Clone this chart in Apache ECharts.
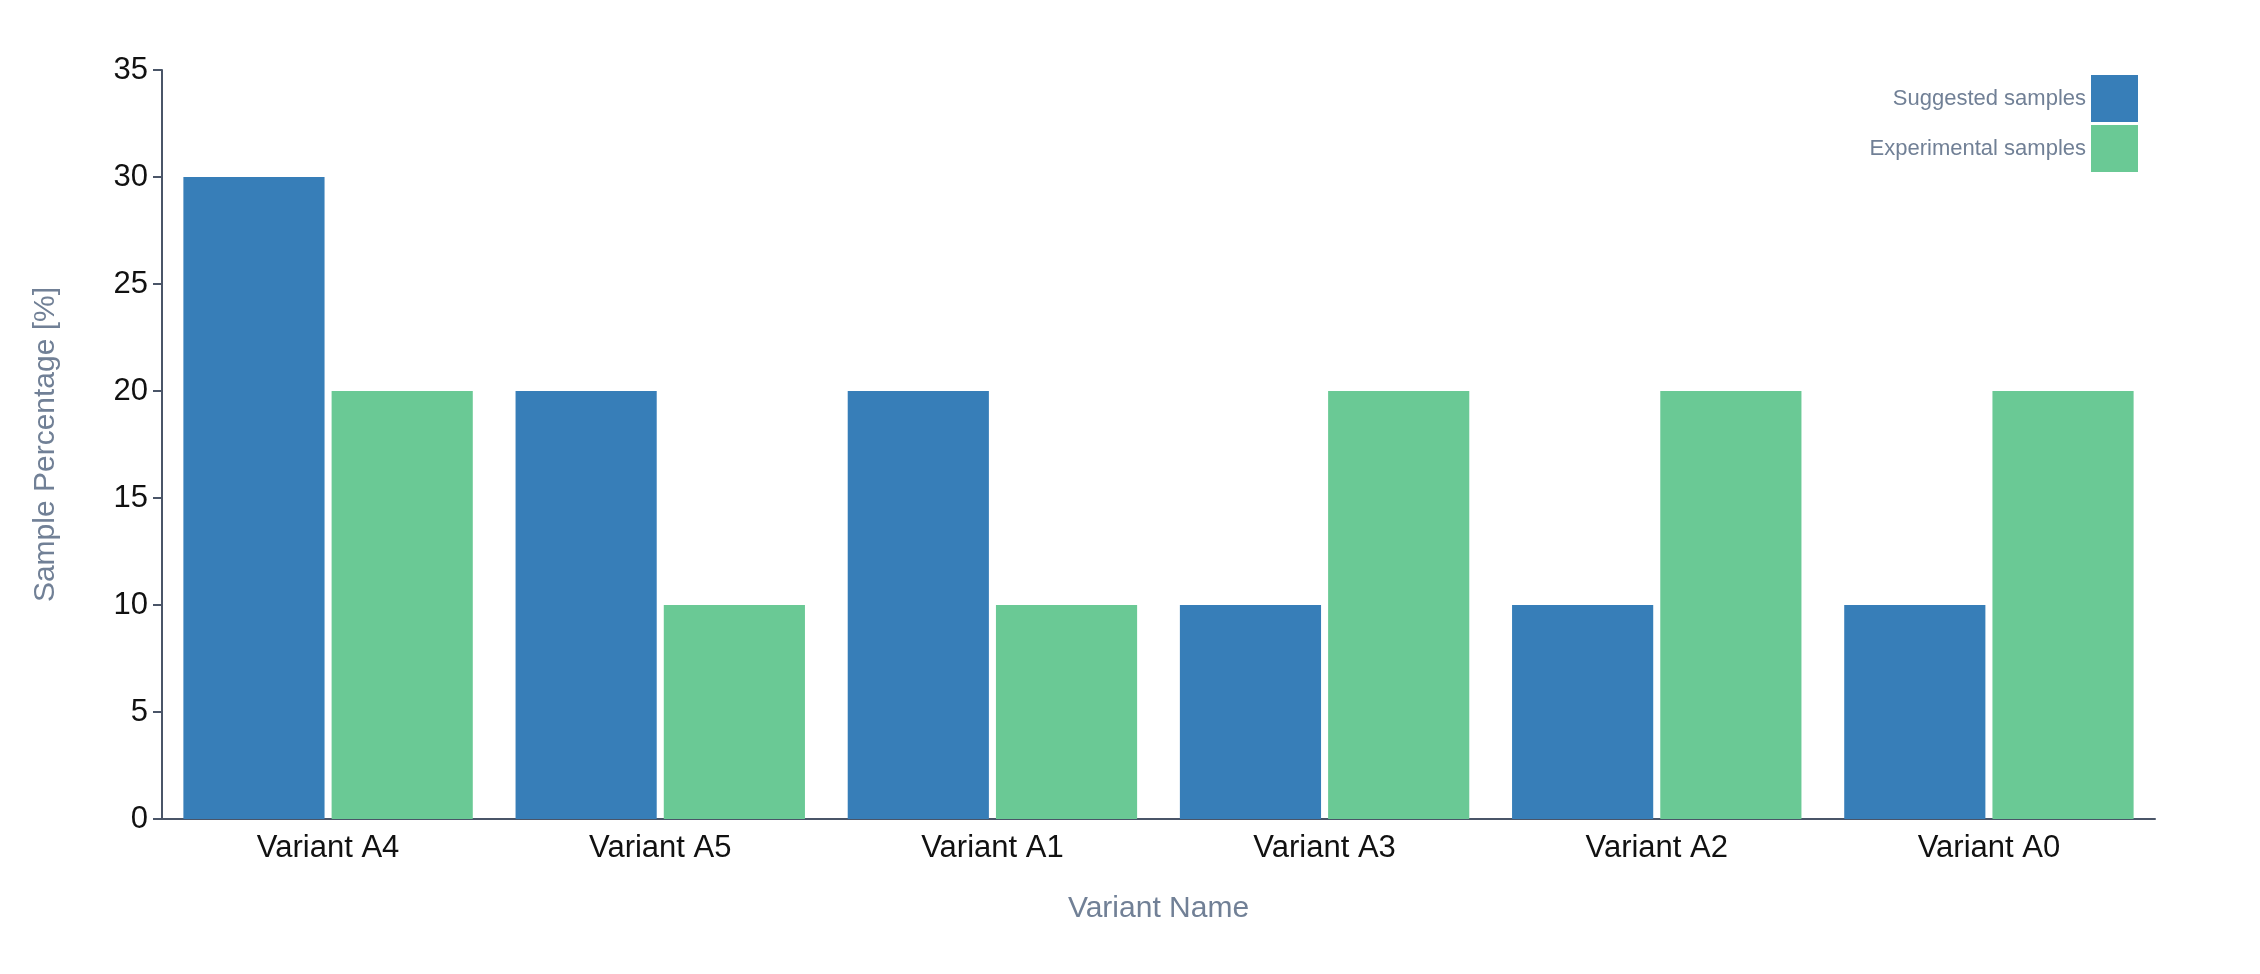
<!DOCTYPE html>
<html><head><meta charset="utf-8">
<script src="https://cdn.jsdelivr.net/npm/echarts@6/dist/echarts.min.js"></script>
<style>html,body{margin:0;padding:0;background:#fff}#c{width:2260px;height:974px}</style>
</head><body><div id="c"></div>
<script>
const categories = ["Variant A4","Variant A5","Variant A1","Variant A3","Variant A2","Variant A0"];
const suggested = [30,20,20,10,10,10];
const experimental = [20,10,10,20,20,20];
const yTicks = [0,5,10,15,20,25,30,35];
const font = "'Liberation Sans', Arial, Helvetica, sans-serif";
const axisColor = '#4a5568';
const chart = echarts.init(document.getElementById('c'));
chart.setOption({
  animation:false,
  textStyle:{fontFamily:font},
  grid:{left:162,right:105,top:70,bottom:155,containLabel:false},
  legend:{
    orient:'vertical', right:117, top:70, align:'right',
    itemWidth:47, itemHeight:47, itemGap:3, icon:'rect',
    textStyle:{color:'#718096',fontSize:22,fontFamily:font},
    data:['Suggested samples','Experimental samples']
  },
  xAxis:{
    type:'category', data:categories,
    name:'Variant Name', nameLocation:'middle', nameGap:75,
    nameTextStyle:{color:'#718096',fontSize:30,fontFamily:font},
    axisLine:{lineStyle:{color:axisColor,width:2}},
    axisTick:{alignWithLabel:true,length:9,lineStyle:{color:axisColor,width:2}},
    axisLabel:{color:'#111',fontSize:31,margin:14,fontFamily:font}
  },
  yAxis:{
    type:'value', min:0, max:35, interval:5,
    name:'Sample Percentage [%]', nameLocation:'middle', nameGap:101,
    nameTextStyle:{color:'#718096',fontSize:30,fontFamily:font},
    axisLine:{show:true,lineStyle:{color:axisColor,width:2}},
    axisTick:{show:true,length:9,lineStyle:{color:axisColor,width:2}},
    splitLine:{show:false},
    axisLabel:{color:'#111',fontSize:31,margin:14,fontFamily:font,
      formatter:v=>yTicks.includes(v)?String(v):''}
  },
  series:[
    {name:'Suggested samples',type:'bar',data:suggested,barWidth:'42.5%',barGap:'5%',
     itemStyle:{color:'#377eb8'}},
    {name:'Experimental samples',type:'bar',data:experimental,barWidth:'42.5%',
     itemStyle:{color:'#6ac995'}}
  ]
});
</script></body></html>
